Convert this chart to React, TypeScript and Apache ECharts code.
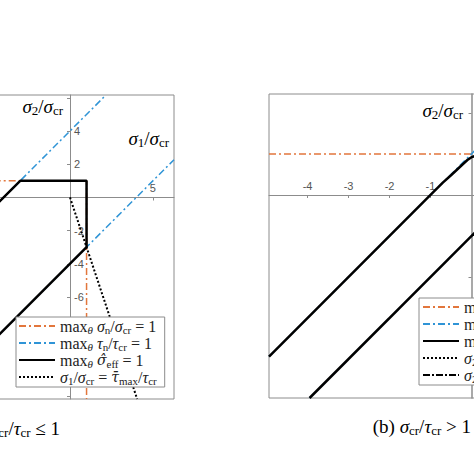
import React, { useEffect, useRef } from 'react';
import * as echarts from 'echarts';

// panel (a): sigma_cr / tau_cr <= 1
const aOrange = [[-5.5, 1], [1, 1], [1, -12.15]];
const aBlueUpper = [[-5.5, -1.5], [2.17, 6.17]];
const aBlueLower = [[-5.5, -9.5], [6.27, 2.27]];
const aBlack = [[-5.5, -1.5], [-3, 1], [1, 1], [1, -3], [-5.5, -9.5]];
const aDotted = [[0, 0], [4.05, -12.15]];
const aXTicks = [5];
const aYTicks = [6, 4, 2, -2, -4, -6, -8, -10, -12];
const aYLabels = [4, 2, -2, -4, -6];

// panel (b): sigma_cr / tau_cr > 1
const bOrange = [[-4.94, 1], [1, 1], [1, -4.95]];
const bBlueUpper = [[-4.94, -3.94], [1.46, 2.46]];
const bBlueLower = [[-3.95, -4.95], [1, 0]];
const bBlackUpper = [
  [-4.94, -3.94], [-1, 0], [-0.7, 0.3], [-0.5, 0.48], [-0.35, 0.62],
  [-0.2, 0.76], [-0.1, 0.85], [0, 0.92], [0.15, 0.97], [0.3, 0.99],
];
const bBlackLower = [[-3.95, -4.95], [1, 0]];
const bXTicks = [-4, -3, -2, -1];
const bYTicks = [2, -2, -4];

const ORANGE = '#e2763c';
const BLUE = '#2f94d6';
const FRAME = '#8c8c8c';
const SERIF = 'Liberation Serif';

const mkRich = (big: number, small: number) => ({
  r: { fontFamily: SERIF, fontSize: big, lineHeight: big + 2, color: '#222' },
  i: { fontFamily: SERIF, fontStyle: 'italic', fontSize: big, lineHeight: big + 2, color: '#222' },
  h: { fontFamily: 'DejaVu Serif', fontStyle: 'italic', fontSize: big - 2, lineHeight: big + 2, color: '#222' },
  s: { fontFamily: SERIF, fontSize: small, lineHeight: small, verticalAlign: 'bottom', color: '#222' },
  si: { fontFamily: SERIF, fontStyle: 'italic', fontSize: small, lineHeight: small, verticalAlign: 'bottom', color: '#222' },
});
const richLegend = mkRich(16, 11);
const richAxis = mkRich(19, 13);

const legendText: Record<string, string> = {
  aSn: '{r|max}{si|θ}{r| }{i|σ}{s|n}{r|/}{i|σ}{s|cr}{r| = 1}',
  aTn: '{r|max}{si|θ}{r| }{i|τ}{s|n}{r|/}{i|τ}{s|cr}{r| = 1}',
  aEff: '{r|max}{si|θ}{r| }{h|σ̂}{s|eff}{r| = 1}',
  aTmax: '{i|σ}{s|1}{r|/}{i|σ}{s|cr}{r| = }{h|τ̄}{s|max}{r|/}{i|τ}{s|cr}',
  bSn: '{r|max}{si|θ}{r| }{i|σ}{s|n}{r|/}{i|σ}{s|cr}{r| = 1}',
  bTn: '{r|max}{si|θ}{r| }{i|τ}{s|n}{r|/}{i|τ}{s|cr}{r| = 1}',
  bEff: '{r|max}{si|θ}{r| }{h|σ̂}{s|eff}{r| = 1}',
  bDot: '{i|σ}{s|2}{r|/}{i|σ}{s|cr}{r| = }{h|τ̄}{s|max}{r|/}{i|τ}{s|cr}',
  bDash: '{i|σ}{s|2}{r|/}{i|σ}{s|cr}{r| = −}{h|τ̄}{s|max}{r|/}{i|τ}{s|cr}',
};

const line = (name: string, data: number[][], grid: number, color: string, width: number, type: any) => ({
  name,
  type: 'line',
  xAxisIndex: grid,
  yAxisIndex: grid,
  data,
  symbol: 'none',
  showSymbol: false,
  silent: true,
  lineStyle: { color, width, type },
  itemStyle: { color },
});

const dashDot = [7, 3, 2, 3];
const tickFont = { color: '#555', fontSize: 11, fontFamily: 'Liberation Sans' };

// axes are pinned to the zero lines with offset (px from grid edge to zero)
const axis = (
  grid: number, position: string, offset: number, min: number, max: number,
  ticks: number[], labels: number[] | null, lineWidth = 1,
) => ({
  type: 'value',
  gridIndex: grid,
  position,
  offset,
  min,
  max,
  axisLine: { show: true, onZero: false, lineStyle: { color: FRAME, width: lineWidth } },
  axisTick: { show: true, customValues: ticks, inside: false, length: 3, lineStyle: { color: FRAME } },
  axisLabel: labels
    ? { show: true, customValues: labels, inside: true, margin: 4, ...tickFont }
    : { show: false },
  splitLine: { show: false },
});

const legendBase = {
  orient: 'vertical',
  itemWidth: 36, itemHeight: 10, itemGap: 0,
  backgroundColor: '#fff', borderColor: FRAME, borderWidth: 1, borderRadius: 0,
  selectedMode: false,
  itemStyle: { opacity: 0, borderWidth: 0 },
  formatter: (n: string) => legendText[n],
  textStyle: { rich: richLegend, fontFamily: SERIF, fontSize: 16 },
};

const App: React.FC = () => {
  const ref = useRef<HTMLDivElement>(null);

  useEffect(() => {
    if (!ref.current) return;
    const chart = echarts.init(ref.current, null, { renderer: 'svg' });
    const option: any = {
      animation: false,
      backgroundColor: '#fff',
      grid: [
        { left: -21.3, right: 300, top: 95, bottom: 75, show: true, borderColor: FRAME, borderWidth: 1, outerBoundsMode: 'none' },
        { left: 269, right: -38.5, top: 94, bottom: 76, show: true, borderColor: FRAME, borderWidth: 1, outerBoundsMode: 'none' },
      ],
      xAxis: [
        axis(0, 'bottom', -201.5, -5.5, 6.27, aXTicks, aXTicks),
        axis(1, 'bottom', -203, -4.94, 1, bXTicks, bXTicks),
      ],
      yAxis: [
        axis(0, 'left', -91.3, -12.15, 6.17, aYTicks, aYLabels),
        axis(1, 'left', -202.5, -4.95, 2.46, bYTicks, null, 1.5),
      ],
      legend: [
        { ...legendBase, data: ['aSn', 'aTn', 'aEff', 'aTmax'], left: 16, top: 317, padding: [1, 8, 1, 2] },
        { ...legendBase, data: ['bSn', 'bTn', 'bEff', 'bDot', 'bDash'], left: 419, top: 298, padding: [1, 8, 1, 3] },
      ],
      series: [
        line('aSn', aOrange, 0, ORANGE, 1.5, dashDot),
        line('aTn', aBlueUpper, 0, BLUE, 1.5, dashDot),
        line('aTn', aBlueLower, 0, BLUE, 1.5, dashDot),
        line('aEff', aBlack, 0, '#000', 2.5, 'solid'),
        line('aTmax', aDotted, 0, '#000', 2, [2, 2]),
        line('bSn', bOrange, 1, ORANGE, 1.5, dashDot),
        line('bTn', bBlueUpper, 1, BLUE, 1.5, dashDot),
        line('bTn', bBlueLower, 1, BLUE, 1.5, dashDot),
        line('bEff', bBlackUpper, 1, '#000', 2.5, 'solid'),
        line('bEff', bBlackLower, 1, '#000', 2.5, 'solid'),
        line('bDot', [], 1, '#000', 2, [2, 2]),
        line('bDash', [], 1, '#000', 2, [7, 2, 2, 2]),
      ],
      graphic: [
        { type: 'text', x: 63, y: 106, style: { text: '{i|σ}{s|2}{r|/}{i|σ}{s|cr}', rich: richAxis, align: 'right', verticalAlign: 'middle' } },
        { type: 'text', x: 169, y: 138, style: { text: '{i|σ}{s|1}{r|/}{i|σ}{s|cr}', rich: richAxis, align: 'right', verticalAlign: 'middle' } },
        { type: 'text', x: 463, y: 110, style: { text: '{i|σ}{s|2}{r|/}{i|σ}{s|cr}', rich: richAxis, align: 'right', verticalAlign: 'middle' } },
        { type: 'text', x: 60, y: 428, style: { text: '{r|(a) }{i|σ}{s|cr}{r|/}{i|τ}{s|cr}{r| ≤ 1}', rich: richAxis, align: 'right', verticalAlign: 'middle' } },
        { type: 'text', x: 471, y: 426, style: { text: '{r|(b) }{i|σ}{s|cr}{r|/}{i|τ}{s|cr}{r| > 1}', rich: richAxis, align: 'right', verticalAlign: 'middle' } },
      ],
    };
    chart.setOption(option);
    return () => chart.dispose();
  }, []);

  return <div ref={ref} style={{ position: 'fixed', left: 0, top: 0, width: 474, height: 474 }} />;
};

export default App;
